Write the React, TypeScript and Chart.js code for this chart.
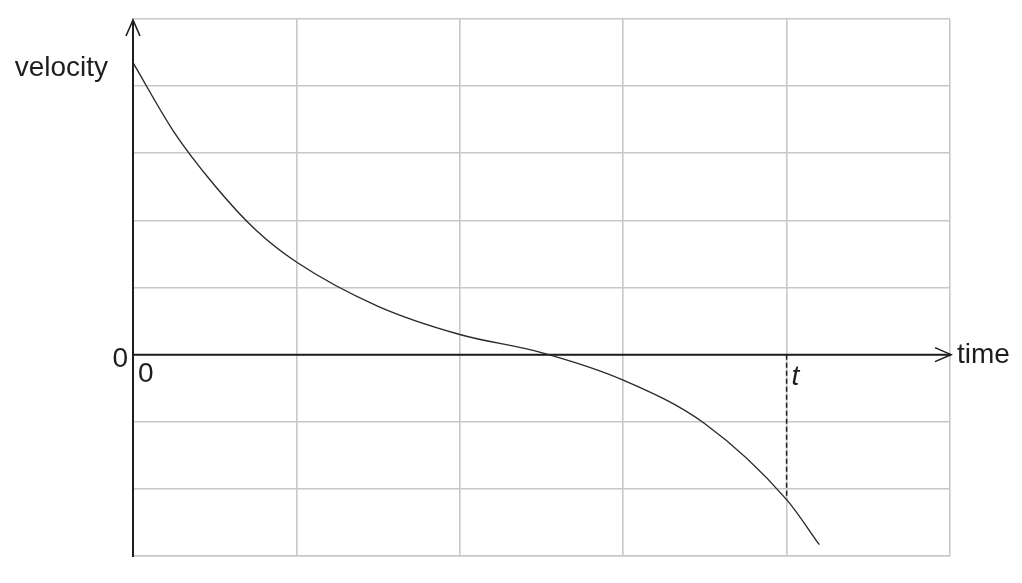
import React, { useEffect, useRef } from "react";
import { Chart, registerables } from "chart.js";

Chart.register(...registerables);

// time in grid columns, velocity in grid rows
const timeValues = [0, 0.25, 0.5, 0.75, 1.0, 1.5, 2.0, 2.5, 3.0, 3.5, 4.0, 4.2];
const velocityValues = [4.35, 3.32, 2.52, 1.86, 1.38, 0.72, 0.3, 0.03, -0.38, -1.03, -2.16, -2.83];
const tMarker = 4.0;
const xTicks = [0, 1, 2, 3, 4, 5];
const yTicks = [-3, -2, -1, 0, 1, 2, 3, 4, 5];
const yLabel = "velocity";
const xLabel = "time";
const originLabel = "0";
const tLabel = "t";

const FONT = "'Liberation Sans', Arial, sans-serif";
const INK = "#1e1e1e";

const overlay = {
  id: "overlay",
  beforeDatasetsDraw(chart: any) {
    const { ctx, scales } = chart;
    const xs = scales.x;
    const ys = scales.y;
    const x0 = xs.getPixelForValue(0);
    const y0 = ys.getPixelForValue(0);
    const top = ys.getPixelForValue(yTicks[yTicks.length - 1]);
    const bottom = ys.getPixelForValue(yTicks[0]);
    const right = xs.getPixelForValue(xTicks[xTicks.length - 1]);
    ctx.save();
    ctx.strokeStyle = INK;
    ctx.lineWidth = 2;
    ctx.beginPath();
    ctx.moveTo(x0, bottom + 1);
    ctx.lineTo(x0, top + 1);
    ctx.moveTo(x0, y0);
    ctx.lineTo(right + 1, y0);
    ctx.stroke();
    ctx.lineWidth = 1.6;
    ctx.beginPath();
    ctx.moveTo(x0 - 7, top + 17);
    ctx.lineTo(x0, top + 1);
    ctx.lineTo(x0 + 7, top + 17);
    ctx.moveTo(right - 15, y0 - 7);
    ctx.lineTo(right + 1, y0);
    ctx.lineTo(right - 15, y0 + 7);
    ctx.stroke();
    ctx.restore();
  },
  afterDatasetsDraw(chart: any) {
    const { ctx, scales } = chart;
    const xs = scales.x;
    const ys = scales.y;
    const x0 = xs.getPixelForValue(0);
    const y0 = ys.getPixelForValue(0);
    const top = ys.getPixelForValue(yTicks[yTicks.length - 1]);
    const right = xs.getPixelForValue(xTicks[xTicks.length - 1]);
    const idx = timeValues.indexOf(tMarker);
    const pt = chart.getDatasetMeta(0).data[idx];
    const tx = xs.getPixelForValue(tMarker);
    ctx.save();
    ctx.strokeStyle = INK;
    ctx.lineWidth = 1.5;
    ctx.setLineDash([5, 3]);
    ctx.beginPath();
    ctx.moveTo(tx, y0);
    ctx.lineTo(tx, pt.y);
    ctx.stroke();
    ctx.setLineDash([]);

    ctx.fillStyle = INK;
    ctx.font = `28px ${FONT}`;
    ctx.textBaseline = "alphabetic";
    ctx.textAlign = "right";
    ctx.fillText(yLabel, x0 - 25, top + 57);
    ctx.fillText(originLabel, x0 - 5, y0 + 12);
    ctx.textAlign = "left";
    ctx.fillText(xLabel, right + 7, y0 + 8);
    ctx.fillText(originLabel, x0 + 5, y0 + 27);
    ctx.font = `italic 28px ${FONT}`;
    ctx.fillText(tLabel, tx + 5, y0 + 30);
    ctx.restore();
  },
};

export default function App() {
  const ref = useRef<HTMLCanvasElement | null>(null);
  useEffect(() => {
    if (!ref.current) return;
    const data = timeValues.map((t, i) => ({ x: t, y: velocityValues[i] }));
    const grid = { color: "#c8c8c8", lineWidth: 1.6, drawTicks: false };
    const chart = new Chart(ref.current, {
      type: "line",
      data: {
        datasets: [
          {
            data,
            borderColor: "#2a2a2a",
            borderWidth: 1.4,
            pointRadius: 0,
            cubicInterpolationMode: "monotone",
            fill: false,
          },
        ],
      },
      options: {
        animation: false,
        responsive: false,
        maintainAspectRatio: false,
        layout: { padding: { left: 133, right: 72, top: 19, bottom: 27 } },
        plugins: { legend: { display: false }, tooltip: { enabled: false } },
        scales: {
          x: {
            type: "linear",
            min: xTicks[0],
            max: xTicks[xTicks.length - 1],
            ticks: { display: false, stepSize: 1 },
            grid,
            border: { color: "#c8c8c8", width: 1.6 },
          },
          y: {
            type: "linear",
            min: yTicks[0],
            max: yTicks[yTicks.length - 1],
            ticks: { display: false, stepSize: 1 },
            grid,
            border: { color: "#c8c8c8", width: 1.6 },
          },
        },
      },
      plugins: [overlay],
    });
    return () => chart.destroy();
  }, []);
  return (
    <div style={{ position: "fixed", left: 0, top: 0, width: 1022, height: 583, background: "#fff" }}>
      <canvas ref={ref} width={1022} height={583} style={{ width: 1022, height: 583, display: "block" }} />
    </div>
  );
}
